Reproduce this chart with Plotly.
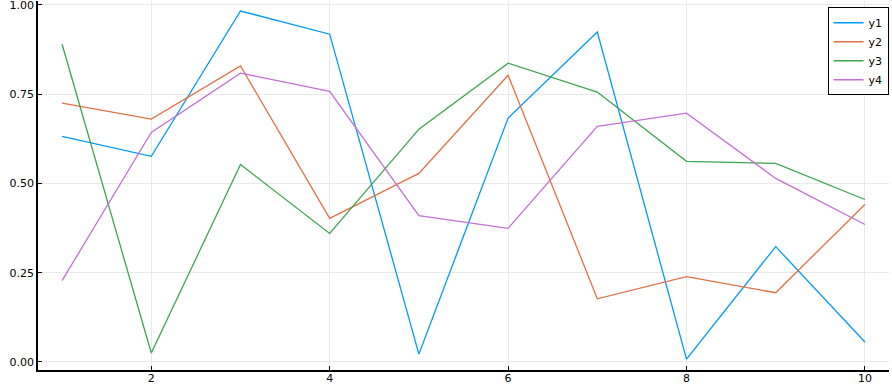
import plotly.graph_objects as go

x = [1, 2, 3, 4, 5, 6, 7, 8, 9, 10]
y1 = [0.632, 0.576, 0.983, 0.918, 0.022, 0.683, 0.924, 0.008, 0.323, 0.056]
y2 = [0.725, 0.680, 0.829, 0.402, 0.528, 0.803, 0.177, 0.239, 0.194, 0.441]
y3 = [0.890, 0.025, 0.553, 0.360, 0.652, 0.837, 0.756, 0.562, 0.556, 0.455]
y4 = [0.228, 0.643, 0.809, 0.758, 0.410, 0.374, 0.660, 0.697, 0.514, 0.385]
names = ["y1", "y2", "y3", "y4"]
colors = ["#009AFA", "#E36F47", "#3EA44E", "#C371D2"]

fig = go.Figure()
for name, ys, c in zip(names, [y1, y2, y3, y4], colors):
    fig.add_trace(go.Scatter(x=x, y=ys, mode="lines", name=name,
                             line=dict(color=c, width=1.3)))

axis_common = dict(
    showgrid=True, gridcolor="#e9e9e9", gridwidth=1, automargin=False,
    zeroline=False, showline=True, linecolor="black", linewidth=1.5,
    ticks="inside", ticklen=4, tickcolor="black", tickwidth=1,
    tickfont=dict(family="DejaVu Sans", size=11, color="black"),
    ticklabeloverflow="allow",
)

fig.update_layout(
    width=892, height=385,
    margin=dict(l=38, r=3, t=1, b=15),
    paper_bgcolor="white", plot_bgcolor="white",
    xaxis=dict(range=[0.73, 10.27], tickvals=[2, 4, 6, 8, 10],
               ticklabelstandoff=-3, **axis_common),
    yaxis=dict(range=[-0.0225, 1.011], tickvals=[0, 0.25, 0.5, 0.75, 1.0],
               ticktext=["0.00", "0.25", "0.50", "0.75", "1.00"], **axis_common),
    legend=dict(x=0.9995, y=0.983, xanchor="right", yanchor="top",
                bordercolor="black", borderwidth=1, bgcolor="white",
                font=dict(family="DejaVu Sans", size=11, color="black"),
                tracegroupgap=0, itemwidth=30),
    showlegend=True,
)

fig.write_html("out.html")
